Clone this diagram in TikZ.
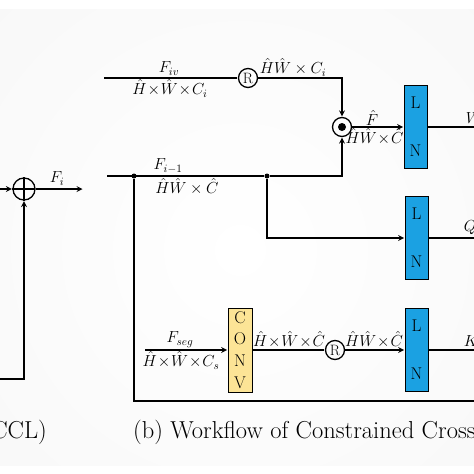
\RequirePackage{fix-cm}
\documentclass[tikz,border=0pt]{standalone}
\usepackage{amsmath,amsfonts}
\usetikzlibrary{arrows}

\definecolor{lnblue}{RGB}{27,161,226}
\definecolor{convyellow}{RGB}{252,228,150}
\newcommand{\bytimes}{\mathbin{\mkern-3mu\times\mkern-3mu}}

\begin{document}
\begin{tikzpicture}[
            x = 1pt, y = -1pt, % pixel grid, y pointing down
            > = stealth, % arrow head style
            shorten > = 0.5pt, % don't touch arrow head to node
            line width = 1.6pt, % line style
            font = \fontsize{16}{18}\selectfont
        ]

        \tikzstyle{block}=[
            draw = black,
            line width = 0.8pt,
            inner sep = 0pt,
            align = center,
            font = \fontsize{17}{20}\selectfont
        ]
        \tikzstyle{ln}=[block, fill = lnblue, minimum width = 23pt, minimum height = 83pt]
        \tikzstyle{conv}=[block, fill = convyellow, minimum width = 24pt, minimum height = 84pt,
            font = \fontsize{17}{21.7}\selectfont]
        \tikzstyle{op}=[circle, draw = black, line width = 1.3pt, inner sep = 0pt, minimum size = 19pt]
        \tikzstyle{junction}=[circle, fill = black, inner sep = 0pt, minimum size = 5pt]
        \tikzstyle{lbl}=[inner sep = 1pt]

        % background
        \useasboundingbox (0,0) rectangle (474,474);
        \clip (0,0) rectangle (474,474);
        \fill[white] (0,0) rectangle (474,474);
        \begin{scope}
            \clip (0,9) rectangle (474,465);
            \fill[gray!8] (0,9) rectangle (474,465);
            \shade[inner color = white, outer color = gray!8] (240,250) circle (520);
        \end{scope}

        \node[op, minimum size = 22pt] (sum) at (24,189) {};
        \node[op, font = \fontsize{15}{15}\selectfont] (r1) at (248,78) {R};
        \node[op] (prod) at (342,127) {};
        \node[ln] (ln1) at (415.5,127) {L\\[28pt]N};
        \node[ln] (ln2) at (416.5,238) {L\\[28pt]N};
        \node[ln] (ln3) at (416.5,350) {L\\[28pt]N};
        \node[conv] (conv) at (240,350) {C\\O\\N\\V};
        \node[op, font = \fontsize{15}{15}\selectfont] (r2) at (335,350) {R};
        \node[junction] (d1) at (134,176) {};
        \node[junction] (d2) at (267,176) {};

        \draw[line width = 1.3pt] (sum.north) -- (sum.south) (sum.west) -- (sum.east);
        \fill (prod) circle (4);

        \coordinate (in) at (-5,189);
        \coordinate (fi) at (83,189);
        \coordinate (skip) at (-5,379);
        \coordinate (fiv) at (104,78);
        \coordinate (fim) at (107,176);
        \coordinate (fseg) at (145,350);
        \coordinate (low) at (480,401);
        \coordinate (wout) at (480,127);
        \coordinate (qout) at (480,238);
        \coordinate (kout) at (480,350);

        \draw[->] (in) -- (sum);
        \draw[->] (sum) -- (fi);
        \draw[->] (skip) -| (sum);
        \draw (fiv) -- (r1);
        \draw[->] (r1) -| (prod);
        \draw[->] (fim) -- (d2) -| (prod);
        \draw[->] (d2) |- (ln2);
        \draw (d1) |- (low);
        \draw[->] (prod) -- (ln1);
        \draw (ln1) -- (wout);
        \draw (ln2) -- (qout);
        \draw (ln3) -- (kout);
        \draw[->] (fseg) -- (conv);
        \draw (conv) -- (r2);
        \draw[->] (r2) -- (ln3);

        \node[lbl, above = 2pt] (tfi) at (57,189) {$F_i$};
        \node[lbl, above = 1pt] (tfiv) at (169,78) {$F_{iv}$};
        \node[lbl, below] (sfiv) at (170,78) {$\hat{H}\bytimes\hat{W}\bytimes C_i$};
        \node[lbl, above] (sr1) at (293,78) {$\hat{H}\hat{W}\times C_i$};
        \node[lbl, above = 1pt] (tfim) at (168,176) {$F_{i-1}$};
        \node[lbl, below = 1pt] (sfim) at (187,176) {$\hat{H}\hat{W}\times\hat{C}$};
        \node[lbl, above] (tfhat) at (372,127) {$\hat{F}$};
        \node[lbl, below = 0pt] (sfhat) at (374.5,127) {$\hat{H}\hat{W}\bytimes\hat{C}$};
        \node[lbl, above = 1pt] (tfseg) at (180,350) {$F_{seg}$};
        \node[lbl, below] (sfseg) at (181,350) {$\hat{H}\bytimes\hat{W}\bytimes C_s$};
        \node[lbl, above] (sconv) at (289,350) {$\hat{H}\bytimes\hat{W}\bytimes\hat{C}$};
        \node[lbl, above] (sr2) at (374,350) {$\hat{H}\hat{W}\bytimes\hat{C}$};
        \node[lbl, anchor = south west] (tw) at (464,125) {$W$};
        \node[lbl, anchor = south west] (tq) at (462,236) {$Q$};
        \node[lbl, anchor = south west] (tk) at (462,348) {$K$};

        \node[anchor = east, font = \fontsize{24.5}{28}\selectfont] (capa) at (51,432) {CCL)};
        \node[anchor = west, font = \fontsize{24.5}{28}\selectfont] (capb) at (129,432) {(b) Workflow of Constrained Cross};
    \end{tikzpicture}
\end{document}
